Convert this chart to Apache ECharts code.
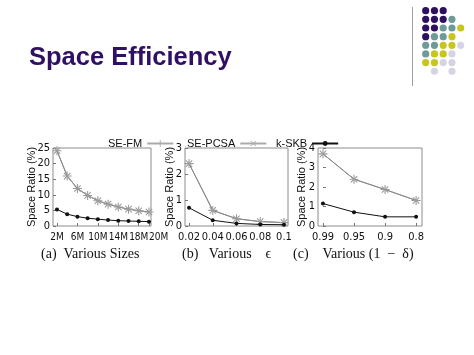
<!DOCTYPE html>
<html><head><meta charset="utf-8">
<script src="https://cdn.jsdelivr.net/npm/echarts@6/dist/echarts.min.js"></script>
<style>html,body{margin:0;padding:0;background:#fff}#c{width:474px;height:355px}</style>
</head><body><div id="c"></div>
<script>
// ---- data ----
const sizeVals = [2, 4, 6, 8, 10, 12, 14, 16, 18, 20];           // millions
const sizeTickVals = [2, 6, 10, 14, 18, 20];
const sizeTickLabels = ['2M', '6M', '10M', '14M', '18M', '20M'];
const seFmA   = [24.1, 16.0, 12.0, 9.8, 8.1, 7.0, 6.1, 5.4, 4.9, 4.5];
const sePcsaA = [24.1, 16.0, 12.0, 9.8, 8.1, 7.0, 6.1, 5.4, 4.9, 4.5];
const kSkbA   = [5.3, 3.8, 3.0, 2.5, 2.2, 1.9, 1.7, 1.6, 1.5, 1.4];

const epsVals = [0.02, 0.04, 0.06, 0.08, 0.1];
const epsTickLabels = ['0.02', '0.04', '0.06', '0.08', '0.1'];
const seFmB   = [2.4, 0.6, 0.28, 0.17, 0.13];
const sePcsaB = [2.4, 0.6, 0.28, 0.17, 0.13];
const kSkbB   = [0.7, 0.22, 0.1, 0.06, 0.05];

const deltaLabels = ['0.99', '0.95', '0.9', '0.8'];
const seFmC   = [3.7, 2.4, 1.87, 1.31];
const sePcsaC = [3.7, 2.4, 1.87, 1.31];
const kSkbC   = [1.15, 0.71, 0.47, 0.47];

const seriesNames = ['SE-FM', 'SE-PCSA', 'k-SKB'];
const captions = ['(a)  Various Sizes', '(b)   Various    \u03f5', '(c)    Various (1\u2002\u2212\u2002\u03b4)'];

// ---- styling ----
const narrow = "'DejaVu Sans Condensed','DejaVu Sans',sans-serif";
const sans = "'Liberation Sans',Arial,sans-serif";
const serif = "'Liberation Serif','DejaVu Serif',serif";
const plusPath = 'path://M4.4,0H5.6V10H4.4Z M0,4.4H10V5.6H0Z';
const upperColor = '#8a8a8a';
const lowerColor = '#111';

const grids = [
  {left: 53, top: 148, width: 98, height: 78},
  {left: 185, top: 148, width: 103, height: 78},
  {left: 318, top: 148, width: 104, height: 78}
];

function xAx(i, min, max, custom, fmt, alignMax, fs) {
  return {
    type: 'value', gridIndex: i, min: min, max: max,
    axisLine: {show: false}, splitLine: {show: false},
    axisTick: {show: true, inside: true, length: 3, customValues: custom, lineStyle: {color: '#777'}},
    axisLabel: {customValues: custom, formatter: fmt, color: '#111', fontFamily: narrow, fontWeight: 'condensed', fontSize: fs || 11,
      margin: 6, hideOverlap: false, alignMaxLabel: alignMax || null}
  };
}
function yAx(i, max, interval, nameGap) {
  return {
    type: 'value', gridIndex: i, min: 0, max: max, interval: interval,
    name: 'Space Ratio (%)', nameLocation: 'middle', nameGap: nameGap, nameMoveOverlap: false,
    nameTextStyle: {fontFamily: sans, fontSize: 11, color: '#111'},
    axisLine: {show: false}, splitLine: {show: false},
    axisTick: {show: true, inside: true, length: 3, lineStyle: {color: '#777'}},
    axisLabel: {color: '#111', fontFamily: narrow, fontWeight: 'condensed', fontSize: 11, margin: 3}
  };
}
function mapIdx(vals, labels) {
  return function (v) {
    for (let k = 0; k < vals.length; k++) if (Math.abs(vals[k] - v) < 1e-6) return labels[k];
    return '';
  };
}
const idxVals = deltaLabels.map((_, k) => k);

function line(name, gi, xs, ys) {
  const isK = name === 'k-SKB';
  const isX = name === 'SE-PCSA';
  return {
    name: name, type: 'line', xAxisIndex: gi, yAxisIndex: gi,
    data: xs.map((x, k) => [x, ys[k]]),
    symbol: isK ? 'circle' : plusPath,
    symbolSize: isK ? 4 : 9,
    symbolRotate: isX ? 45 : 0,
    showSymbol: true,
    lineStyle: {color: isK ? lowerColor : upperColor, width: 1},
    itemStyle: {color: isK ? lowerColor : '#9a9a9a'},
    z: isK ? 3 : 2,
    animation: false
  };
}

const series = [
  line('SE-FM', 0, sizeVals, seFmA), line('SE-PCSA', 0, sizeVals, sePcsaA), line('k-SKB', 0, sizeVals, kSkbA),
  line('SE-FM', 1, epsVals, seFmB), line('SE-PCSA', 1, epsVals, sePcsaB), line('k-SKB', 1, epsVals, kSkbB),
  line('SE-FM', 2, idxVals, seFmC), line('SE-PCSA', 2, idxVals, sePcsaC), line('k-SKB', 2, idxVals, kSkbC)
];

// decorative dot grid (P purple, T teal, Y yellow, L lavender)
const dotRows = ['PPP..', 'PPPT.', 'PPTTY', 'PTTY.', 'TTYYL', 'TYYL.', 'YYLL.', '.L.L.'];
const dotColors = {P: '#2e1060', T: '#6e9a9a', Y: '#c6c61e', L: '#d4d4e6'};
const graphics = [{type: 'line', shape: {x1: 412.5, y1: 7, x2: 412.5, y2: 86}, style: {stroke: '#a0a0a0', lineWidth: 1}}];
dotRows.forEach((row, r) => {
  for (let c = 0; c < row.length; c++) {
    const ch = row[c];
    if (ch === '.') continue;
    graphics.push({type: 'circle', shape: {cx: 425.7 + c * 8.75, cy: 10.7 + r * 8.65, r: 3.6}, style: {fill: dotColors[ch]}});
  }
});

const capStyle = {fontFamily: serif, fontWeight: 'normal', fontSize: 14, color: '#111'};
const titles = [
  {text: 'Space Efficiency', left: 29, top: 45, padding: 0, textStyle: {fontFamily: sans, fontWeight: 'bold', fontSize: 25.5, color: '#2f1062'}},
  {text: captions[0], left: 41, top: 247, padding: 0, textStyle: capStyle},
  {text: captions[1], left: 182, top: 247, padding: 0, textStyle: capStyle},
  {text: captions[2], left: 293, top: 247, padding: 0, textStyle: capStyle}
];

function leg(name, left, color, h) {
  return {
    data: [{name: name, itemStyle: {color: color}, lineStyle: {color: color}}],
    left: left, top: 138, align: 'right', itemWidth: 26, itemHeight: h, padding: 0,
    selectedMode: false,
    textStyle: {fontFamily: sans, fontSize: 11, color: '#111'}
  };
}

const option = {
  animation: false,
  backgroundColor: '#fff',
  title: titles,
  graphic: graphics,
  legend: [leg('SE-FM', 108, '#aaa', 9), leg('SE-PCSA', 187, '#aaa', 9), leg('k-SKB', 276, '#111', 6)],
  grid: grids.map(g => Object.assign({show: true, borderColor: '#8c8c8c', borderWidth: 1, containLabel: false}, g)),
  xAxis: [
    xAx(0, 1.22, 20.4, sizeTickVals, mapIdx(sizeTickVals, sizeTickLabels), 'left', 10),
    xAx(1, 0.0166, 0.1034, epsVals, mapIdx(epsVals, epsTickLabels)),
    xAx(2, -0.16, 3.19, idxVals, mapIdx(idxVals, deltaLabels))
  ],
  yAxis: [yAx(0, 25, 5, 16), yAx(1, 3, 1, 10), yAx(2, 4, 1, 11)],
  series: series
};
const chart = echarts.init(document.getElementById('c'), null, {renderer: 'canvas'});
chart.setOption(option);
</script></body></html>
